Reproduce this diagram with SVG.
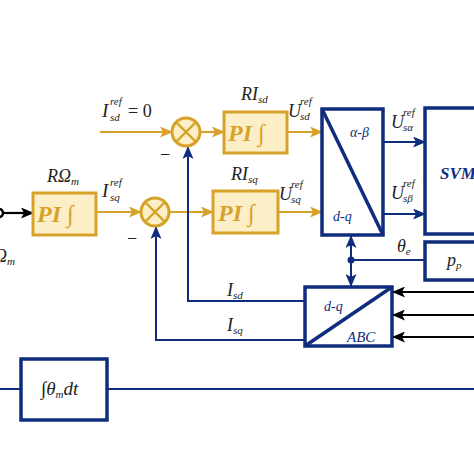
<svg xmlns="http://www.w3.org/2000/svg" width="474" height="474" viewBox="0 0 474 474">
<defs>
<marker id="ag" markerWidth="13" markerHeight="11" refX="12" refY="5.5" orient="auto" markerUnits="userSpaceOnUse"><path d="M0,0 L13,5.5 L0,11 L3,5.5 Z" fill="#D6A229"/></marker>
<marker id="an" markerWidth="13" markerHeight="11" refX="12" refY="5.5" orient="auto" markerUnits="userSpaceOnUse"><path d="M0,0 L13,5.5 L0,11 L3,5.5 Z" fill="#0E2D7E"/></marker>
<marker id="ab" markerWidth="13" markerHeight="11" refX="12" refY="5.5" orient="auto" markerUnits="userSpaceOnUse"><path d="M0,0 L13,5.5 L0,11 L3,5.5 Z" fill="#000"/></marker>
</defs>
<style>
.g{stroke:#D6A229;stroke-width:3;fill:#FCEFC8}
.gl{stroke:#D6A229;stroke-width:2.2;fill:none}
.n{stroke:#0E2D7E;stroke-width:3.5;fill:#fff}
.nl{stroke:#0E2D7E;stroke-width:2;fill:none}
.bl{stroke:#000;stroke-width:2.2;fill:none}
.m{font-family:"Liberation Serif",serif;font-style:italic;fill:#222}
.pi{font-family:"Liberation Serif",serif;font-style:italic;font-weight:bold;fill:#D6A229;font-size:24px}
.nt{font-family:"Liberation Serif",serif;font-style:italic;fill:#0E2D7E}
.s{font-size:11px}
</style>
<rect width="474" height="474" fill="#fff"/>

<g id="connectors">
  <line class="bl" x1="3" y1="213" x2="33" y2="213" marker-end="url(#ab)"/>
  <line class="gl" x1="100" y1="132" x2="172" y2="132" marker-end="url(#ag)"/>
  <line class="gl" x1="200" y1="132" x2="224" y2="132" marker-end="url(#ag)"/>
  <line class="gl" x1="96" y1="212" x2="141" y2="212" marker-end="url(#ag)"/>
  <line class="gl" x1="169" y1="212" x2="213" y2="212" marker-end="url(#ag)"/>
  <line class="gl" x1="287" y1="132" x2="322" y2="132" marker-end="url(#ag)"/>
  <line class="gl" x1="278" y1="212" x2="322" y2="212" marker-end="url(#ag)"/>
  <line class="nl" x1="383" y1="142" x2="425" y2="142" marker-end="url(#an)"/>
  <line class="nl" x1="383" y1="214" x2="425" y2="214" marker-end="url(#an)"/>
  <line class="nl" x1="425" y1="260" x2="351" y2="260"/>
  <line class="nl" x1="351" y1="260" x2="351" y2="236" marker-end="url(#an)"/>
  <line class="nl" x1="351" y1="260" x2="351" y2="286" marker-end="url(#an)"/>
  <circle cx="351" cy="260" r="3.5" fill="#0E2D7E"/>
  <path class="nl" d="M305,301 H188 V147" marker-end="url(#an)"/>
  <path class="nl" d="M305,340 H156 V227" marker-end="url(#an)"/>
  <line class="bl" x1="474" y1="292" x2="393" y2="292" marker-end="url(#ab)"/>
  <line class="bl" x1="474" y1="315" x2="393" y2="315" marker-end="url(#ab)"/>
  <line class="bl" x1="474" y1="337" x2="393" y2="337" marker-end="url(#ab)"/>
  <line class="nl" x1="0" y1="389" x2="21" y2="389"/>
  <line class="nl" x1="107" y1="389" x2="474" y2="389"/>
</g>

<g id="input">
  <circle cx="-1" cy="213" r="4" fill="#fff" stroke="#000" stroke-width="2.5"/>
  <text class="m" x="-6" y="262" font-size="18">Ω<tspan class="s" dy="3">m</tspan></text>
</g>

<g id="pi-speed">
  <rect class="g" x="33" y="193" width="63" height="42"/>
  <text class="pi" x="37" y="222">PI ∫</text>
  <text class="m" x="47" y="182" font-size="18">RΩ<tspan class="s" dy="3">m</tspan></text>
</g>

<g id="label-isdref">
  <text class="m" x="102" y="117" font-size="19">I</text>
  <text class="m s" x="110" y="105">ref</text>
  <text class="m s" x="110" y="121">sd</text>
  <text x="128" y="117" font-size="18" font-family="Liberation Serif,serif" fill="#222">= 0</text>
</g>

<g id="label-isqref">
  <text class="m" x="102" y="197" font-size="19">I</text>
  <text class="m s" x="110" y="186">ref</text>
  <text class="m s" x="110" y="201">sq</text>
</g>

<g id="sum-d">
  <circle class="g" cx="186" cy="132" r="14"/>
  <path class="gl" d="M176.1,122.1 L195.9,141.9 M195.9,122.1 L176.1,141.9"/>
  <text x="161" y="158" font-size="15" font-family="Liberation Sans,sans-serif" fill="#222">–</text>
</g>

<g id="sum-q">
  <circle class="g" cx="155" cy="212" r="14"/>
  <path class="gl" d="M145.1,202.1 L164.9,221.9 M164.9,202.1 L145.1,221.9"/>
  <text x="128" y="242" font-size="15" font-family="Liberation Sans,sans-serif" fill="#222">–</text>
</g>

<g id="pi-d">
  <rect class="g" x="224" y="112" width="63" height="41"/>
  <text class="pi" x="228" y="141">PI ∫</text>
  <text class="m" x="241" y="100" font-size="18">RI<tspan class="s" dy="3">sd</tspan></text>
</g>

<g id="pi-q">
  <rect class="g" x="213" y="191" width="65" height="42"/>
  <text class="pi" x="218" y="221">PI ∫</text>
  <text class="m" x="231" y="180" font-size="18">RI<tspan class="s" dy="3">sq</tspan></text>
</g>

<g id="label-usdref">
  <text class="m" x="288" y="117" font-size="18">U</text>
  <text class="m s" x="300" y="105">ref</text>
  <text class="m s" x="300" y="120">sd</text>
</g>
<g id="label-usqref">
  <text class="m" x="279" y="200" font-size="18">U</text>
  <text class="m s" x="291" y="188">ref</text>
  <text class="m s" x="291" y="203">sq</text>
</g>

<g id="dq-ab">
  <rect class="n" x="322" y="109" width="61" height="126"/>
  <line x1="322" y1="109" x2="383" y2="235" stroke="#0E2D7E" stroke-width="3.5"/>
  <text class="nt" x="350" y="137" font-size="14">α-β</text>
  <text class="nt" x="333" y="221" font-size="14">d-q</text>
</g>

<g id="label-usa">
  <text class="m" x="391" y="128" font-size="18">U</text>
  <text class="m s" x="403" y="116">ref</text>
  <text class="m s" x="403" y="131">sα</text>
</g>
<g id="label-usb">
  <text class="m" x="391" y="199" font-size="18">U</text>
  <text class="m s" x="403" y="187">ref</text>
  <text class="m s" x="403" y="202">sβ</text>
</g>

<g id="svm">
  <rect class="n" x="425" y="108" width="60" height="126"/>
  <text class="nt" x="440" y="179" font-size="17" font-weight="bold">SVM</text>
</g>

<g id="pp">
  <rect class="n" x="425" y="242" width="60" height="38"/>
  <text class="m" x="447" y="266" font-size="18">p<tspan class="s" dy="3">p</tspan></text>
</g>

<g id="label-theta">
  <text class="m" x="397" y="252" font-size="18">θ<tspan class="s" dy="3">e</tspan></text>
</g>

<g id="abc-dq">
  <rect class="n" x="305" y="287" width="87" height="59"/>
  <line x1="305" y1="346" x2="392" y2="287" stroke="#0E2D7E" stroke-width="3.5"/>
  <text class="nt" x="324" y="311" font-size="14">d-q</text>
  <text class="nt" x="347" y="342" font-size="15">ABC</text>
</g>

<g id="label-isd">
  <text class="m" x="227" y="296" font-size="18">I<tspan class="s" dy="3">sd</tspan></text>
</g>
<g id="label-isq">
  <text class="m" x="227" y="331" font-size="18">I<tspan class="s" dy="3">sq</tspan></text>
</g>

<g id="integrator">
  <rect class="n" x="21" y="359" width="86" height="61"/>
  <text class="m" x="41" y="395" font-size="19">∫θ<tspan class="s" dy="3">m</tspan><tspan dy="-3">dt</tspan></text>
</g>
</svg>
